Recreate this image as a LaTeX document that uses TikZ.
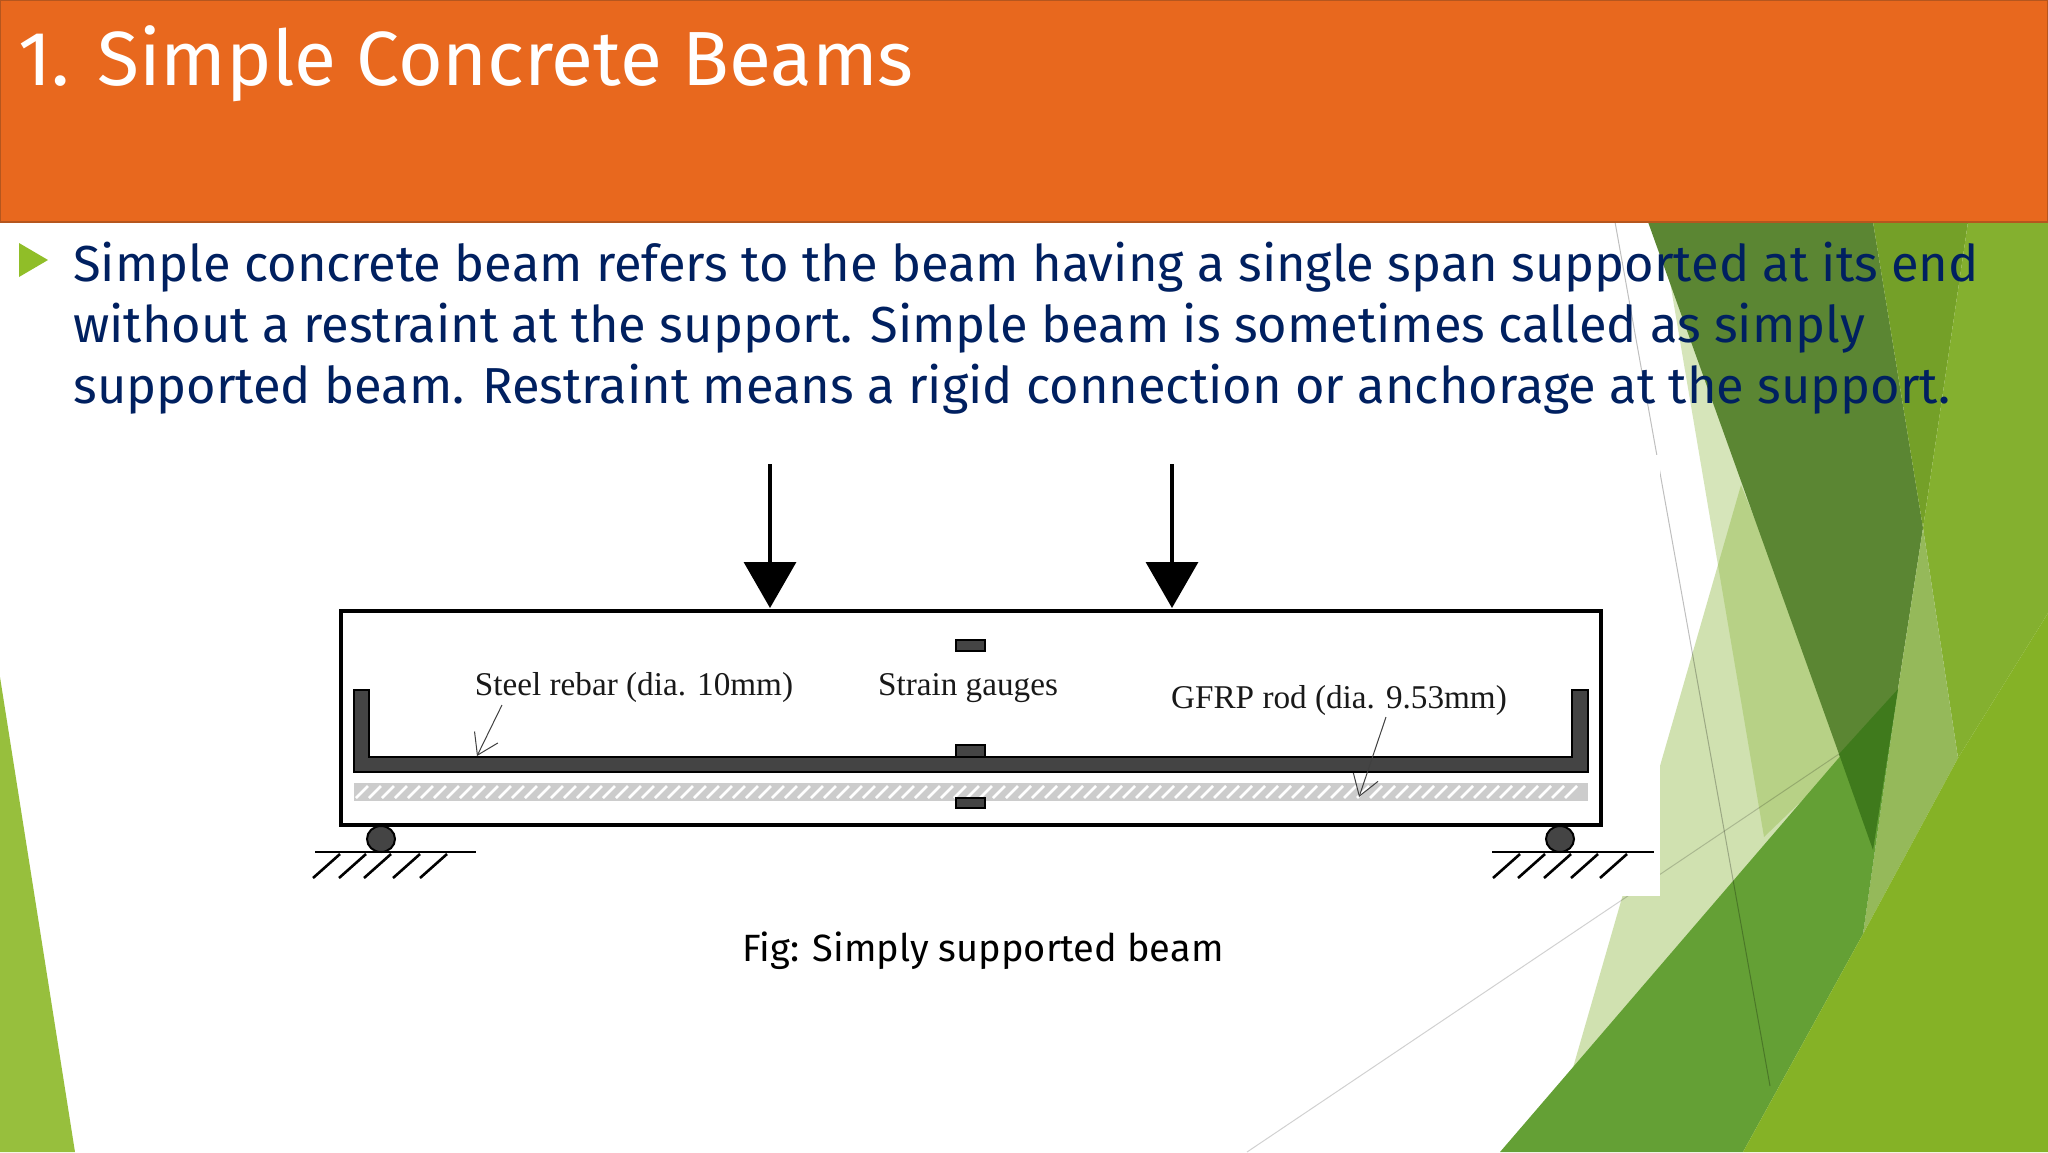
\documentclass[tikz,border=0pt]{standalone}
\usepackage{fontspec}
\setmainfont{Fira Sans}
\newfontfamily\figfont{Liberation Serif}
\usetikzlibrary{arrows.meta}
\definecolor{barorange}{HTML}{E8681E}
\definecolor{bodyblue}{HTML}{002060}
\definecolor{bargray}{HTML}{444444}
\begin{document}
\begin{tikzpicture}[x=0.5pt,y=-0.5pt,
  slide line/.style={anchor=base west, inner sep=0pt, text=bodyblue, font=\fontsize{25.3}{30}\selectfont},
  fig label/.style={inner sep=0pt, text=black!90, font=\figfont\fontsize{16.6}{19}\selectfont},
  bar part/.style={fill=bargray, draw=black, line width=1pt},
  gauge/.style={fill=bargray, draw=black, line width=1pt},
  load/.style={-{Triangle[length=23pt,width=26pt]}, line width=1.7pt},
  leader/.style={-{Straight Barb[length=10pt,width=13pt]}, line width=0.5pt, black!75},
  hatch/.style={line width=1.3pt}]
\useasboundingbox (0,0) rectangle (2048,1152);
\fill[white] (0,0) rectangle (2048,1152);

% Background facets
\fill[fill={rgb,255:red,151;green,191;blue,61}] (0,677) -- (75,1152) -- (0,1152) -- cycle;
\fill[fill={rgb,255:red,138;green,181;blue,58}, opacity=0.35] (1668,270) -- (1850,754) -- (1764,837) -- cycle;
\fill[fill={rgb,255:red,138;green,181;blue,58}, opacity=0.4] (1741,485) -- (1850,754) -- (1570,1078) -- cycle;
\fill[fill={rgb,255:red,91;green,134;blue,51}] (1648,222) -- (1873,222) -- (1923,528) -- (1873,850) -- (1839,754) -- cycle;
\fill[fill={rgb,255:red,116;green,160;blue,40}] (1873,222) -- (1968,222) -- (1923,528) -- cycle;
\fill[fill={rgb,255:red,132;green,176;blue,47}] (1968,222) -- (2048,222) -- (2048,613) -- (1958,758) -- (1923,528) -- cycle;
\fill[fill={rgb,255:red,149;green,185;blue,90}] (1923,528) -- (1958,758) -- (1863,934) -- (1898,689) -- cycle;
\fill[fill={rgb,255:red,100;green,160;blue,53}] (1500,1152) -- (1898,689) -- (1863,934) -- (1743,1152) -- cycle;
\fill[fill={rgb,255:red,63;green,122;blue,28}] (1839,754) -- (1898,689) -- (1873,850) -- cycle;
\fill[fill={rgb,255:red,133;green,178;blue,38}] (1743,1152) -- (1863,934) -- (1958,758) -- (2048,613) -- (2048,1152) -- cycle;
\draw[black, opacity=0.25, line width=0.5pt] (1615,222) -- (1770,1086);
\draw[black, opacity=0.18, line width=0.5pt] (1247,1152) -- (1839,754);

% Figure backing
\fill[white] (300,455) rectangle (1660,896);

% Title bar
\fill[barorange, draw={rgb,255:red,181;green,86;blue,30}, line width=1pt] (0,0) rectangle (2048,222);
\node[anchor=base west, inner sep=0pt, text=white, font=\fontsize{38.4}{44}\selectfont] (title) at (18,85) {1. Simple Concrete Beams};

% Body text
\fill[fill={rgb,255:red,144;green,190;blue,40}] (19,243) -- (48,260) -- (19,277) -- cycle;
\node[slide line] (lineA) at (73,281) {Simple concrete beam refers to the beam having a single span supported at its end};
\node[slide line] (lineB) at (73,342) {without a restraint at the support. Simple beam is sometimes called as simply};
\node[slide line] (lineC) at (73,403) {supported beam. Restraint means a rigid connection or anchorage at the support.};

% Beam outline
\draw[line width=2pt] (341,611) rectangle (1601,825);

% Loads
\coordinate (loadAtop) at (770,464);
\coordinate (loadAtip) at (770,608);
\coordinate (loadBtop) at (1172,464);
\coordinate (loadBtip) at (1172,608);
\draw[load] (loadAtop) -- (loadAtip);
\draw[load] (loadBtop) -- (loadBtip);

% Steel rebar
\filldraw[bar part] (354,690) -- (369,690) -- (369,757) -- (1572,757) -- (1572,690) -- (1588,690) -- (1588,772) -- (354,772) -- cycle;

% GFRP rod
\fill[black!20] (354,783) rectangle (1588,801);
\foreach \x in {356,369,...,1576}
  \draw[white, line width=1.3pt] (\x,798) -- (\x+12,786);

% Strain gauges
\filldraw[gauge] (956,640) rectangle (985,651);
\filldraw[gauge] (956,745) rectangle (985,757);
\filldraw[gauge] (956,798) rectangle (985,808);

% Supports
\filldraw[fill=bargray, draw=black, line width=1pt] (381,839) circle [x radius=14, y radius=13];
\filldraw[fill=bargray, draw=black, line width=1pt] (1560,839) circle [x radius=14, y radius=13];
\draw[line width=1pt] (315,852) -- (476,852);
\draw[line width=1pt] (1492,852) -- (1654,852);
\foreach \x in {340,366,391,420,447}
  \draw[hatch] (\x,854) -- (\x-27,878);
\foreach \x in {1520,1545,1571,1598,1627}
  \draw[hatch] (\x,854) -- (\x-27,878);

% Labels
\node[fig label] (steelLabel) at (634,688) {Steel rebar (dia. 10mm)};
\node[fig label] (gaugeLabel) at (968,688) {Strain gauges};
\node[fig label] (gfrpLabel) at (1339,701) {GFRP rod (dia. 9.53mm)};
\coordinate (steelFrom) at (502,705);
\coordinate (steelTo) at (477,756);
\coordinate (gfrpFrom) at (1386,717);
\coordinate (gfrpTo) at (1359,797);
\draw[leader] (steelFrom) -- (steelTo);
\draw[leader] (gfrpFrom) -- (gfrpTo);

% Caption
\node[inner sep=0pt, text=black, font=\fontsize{19}{23}\selectfont] (caption) at (983,951) {Fig: Simply supported beam};
\end{tikzpicture}
\end{document}
